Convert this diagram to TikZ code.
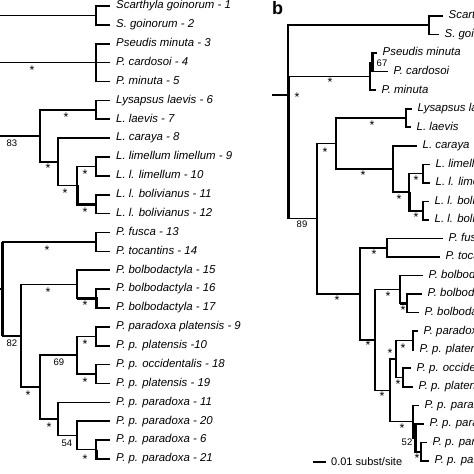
\documentclass[tikz,border=0pt]{standalone}
\usepackage{fontspec}
\setmainfont{Liberation Sans}

\begin{document}
\begin{tikzpicture}[x=1pt,y=-1pt,
    br/.style={line width=1.6pt},
    thickbr/.style={line width=3pt},
    ltip/.style={anchor=west,inner xsep=6pt,inner ysep=0pt,text height=8pt,text depth=2.3pt,
                 font=\itshape\fontsize{11.4}{11.4}\selectfont},
    rtip/.style={ltip,inner xsep=5.5pt},
    bstar/.style={inner sep=0pt,yshift=-2.3pt,font=\fontsize{12.5}{12.5}\selectfont},
    bval/.style={inner sep=0pt,font=\fontsize{9.5}{9.5}\selectfont}]
  \useasboundingbox (0,0) rectangle (474,474);
  \clip (0,0) rectangle (474,474);

  % panel a (cladogram, cut on the left)
  \foreach \name [count=\i] in {Scarthyla goinorum - 1, S. goinorum - 2, Pseudis minuta - 3,
      P. cardosoi - 4, P. minuta - 5, Lysapsus laevis - 6, L. laevis - 7, L. caraya - 8,
      L. limellum limellum - 9, L. l. limellum - 10, L. l. bolivianus - 11,
      L. l. bolivianus - 12, P. fusca - 13, P. tocantins - 14, P. bolbodactyla - 15,
      P. bolbodactyla - 16, P. bolbodactyla - 17, P. paradoxa platensis - 9,
      P. p. platensis -10, P. p. occidentalis - 18, P. p. platensis - 19,
      P. p. paradoxa - 11, P. p. paradoxa - 20, P. p. paradoxa - 6, P. p. paradoxa - 21}
    \node[ltip] (a\i) at (110,{6+(\i-1)*18.875}) {\name};

  \coordinate (L0) at (-8,200);
  \coordinate (Lsg) at (96,15.4);
  \coordinate (Lpm) at (96,62.6);
  \coordinate (L83) at (40,135.8);
  \coordinate (Lly) at (96,109.8);
  \coordinate (Lli1) at (58,161.7);
  \coordinate (Lli2) at (77,185.3);
  \coordinate (Lli3) at (96,166.4);
  \coordinate (Lli4) at (96,204.2);
  \coordinate (Lfb) at (2.5,288.9);
  \coordinate (Lfu) at (96,242);
  \coordinate (Lpp0) at (21,335.7);
  \coordinate (Lbo) at (77,284.4);
  \coordinate (Lbo2) at (96,298.5);
  \coordinate (Lpp1) at (40,387);
  \coordinate (Lpp2) at (77,355.2);
  \coordinate (Lpp4) at (96,336.3);
  \coordinate (Lpp5) at (96,374);
  \coordinate (Lpp3) at (58,418.9);
  \coordinate (Lpp6) at (77,435.4);
  \coordinate (Lpp7) at (96,449.6);

  \draw[br] (L0) |- (Lsg) (L0) |- (Lpm) (L0) |- (L83) (L0) |- (Lfb);
  \draw[br] (Lsg) |- (a1) (Lsg) |- (a2);
  \draw[br] (Lpm) |- (a3) (Lpm) |- (a4) (Lpm) |- (a5);
  \draw[br] (L83) |- (Lly) (L83) |- (Lli1);
  \draw[br] (Lly) |- (a6) (Lly) |- (a7);
  \draw[br] (Lli1) |- (a8) (Lli1) |- (Lli2);
  \draw[br] (Lli2) |- (Lli3) (Lli2) |- (Lli4);
  \draw[br] (Lli3) |- (a9) (Lli3) |- (a10);
  \draw[br] (Lli4) |- (a11) (Lli4) |- (a12);
  \draw[br] (Lfb) |- (Lfu) (Lfb) |- (Lpp0);
  \draw[br] (Lfu) |- (a13) (Lfu) |- (a14);
  \draw[br] (Lpp0) |- (Lbo) (Lpp0) |- (Lpp1);
  \draw[br] (Lbo) |- (a15) (Lbo) |- (Lbo2);
  \draw[br] (Lbo2) |- (a16) (Lbo2) |- (a17);
  \draw[br] (Lpp1) |- (Lpp2) (Lpp1) |- (Lpp3);
  \draw[br] (Lpp2) |- (Lpp4) (Lpp2) |- (Lpp5);
  \draw[br] (Lpp4) |- (a18) (Lpp4) |- (a19);
  \draw[br] (Lpp5) |- (a20) (Lpp5) |- (a21);
  \draw[br] (Lpp3) |- (a22) (Lpp3) |- (Lpp6);
  \draw[br] (Lpp6) |- (a23) (Lpp6) |- (Lpp7);
  \draw[br] (Lpp7) |- (a24) (Lpp7) |- (a25);
  % heavier segments
  \draw[thickbr] (Lfb |- Lfu) -- (Lfb |- Lpp0);
  \draw[thickbr] (Lli2) -- (Lli2 |- Lli4) -- (Lli4);
  \draw[thickbr] (Lbo |- Lbo2) -- (Lbo2) -- (Lbo2 |- a17);
  \draw[thickbr] (Lpp7) -- (Lpp7 |- a25);

  \node[bval] (s83) at (12,143) {83};
  \node[bval] (s82) at (12,343) {82};
  \node[bval] (s69) at (59,362) {69};
  \node[bval] (s54) at (67,443) {54};
  \foreach \x/\y [count=\k] in {32/68, 66/115, 48/166, 65/191, 85/172, 85/210, 47/248,
      48/290, 85/303, 28/393, 85/342, 85/380, 49/425, 85/457}
    \node[bstar] (la\k) at (\x,\y) {*};

  % panel b (phylogram)
  \node[inner sep=0pt,font=\bfseries\fontsize{18}{18}\selectfont] (panelb) at (277.5,8.5) {b};
  \foreach \xe/\name [count=\i] in {443/Scarthyla goinorum, 439/S. goinorum, 377/Pseudis minuta,
      388/P. cardosoi, 376/P. minuta, 412/Lysapsus laevis, 411/L. laevis, 417/L. caraya,
      430/L. limellum limellum, 430/L. l. limellum, 429/L. l. bolivianus, 429/L. l. bolivianus,
      443/P. fusca, 440/P. tocantins, 423/P. bolbodactyla, 422/P. bolbodactyla,
      419/P. bolbodactyla, 418/P. paradoxa platensis, 414/P. p. platensis,
      411/P. p. occidentalis, 413/P. p. platensis, 419/P. p. paradoxa, 424/P. p. paradoxa,
      427/P. p. paradoxa, 429/P. p. paradoxa}
    \node[rtip] (b\i) at (\xe,{16+(\i-1)*18.54}) {\name};

  \coordinate (Rstub) at (272,95);
  \coordinate (R0) at (288,95);
  \coordinate (Rsg) at (429,25.2);
  \coordinate (Rin) at (288,147.5);
  \coordinate (Rpm) at (370,76.3);
  \coordinate (Rpm2) at (372,62.3);
  \coordinate (R89) at (317,218.6);
  \coordinate (Rly1) at (336,143.5);
  \coordinate (Rly) at (406,118);
  \coordinate (Rli1) at (393,169);
  \coordinate (Rli2) at (409,192.1);
  \coordinate (Rli3) at (423,173.6);
  \coordinate (Rli4) at (423,210.7);
  \coordinate (Rfb) at (360,293.8);
  \coordinate (Rfu) at (387,247.7);
  \coordinate (Rpp0) at (375,339.9);
  \coordinate (Rbo) at (400,289.5);
  \coordinate (Rbo2) at (407,303.4);
  \coordinate (Rpp1) at (390,390.3);
  \coordinate (Rpp2) at (396,359);
  \coordinate (Rpp4) at (413,340.4);
  \coordinate (Rpp5) at (403,377.5);
  \coordinate (Rpp3) at (413,421.5);
  \coordinate (Rpp6) at (415,437.8);
  \coordinate (Rpp7) at (421,451.7);

  \draw[br] (Rstub) -- (R0);
  \draw[br] (R0) |- (Rsg) (R0) |- (Rin);
  \draw[br] (Rsg) |- (b1) (Rsg) |- (b2);
  \draw[br] (Rin) |- (Rpm) (Rin) |- (R89);
  \draw[br] (Rpm) |- (Rpm2) (Rpm) |- (b5);
  \draw[br] (Rpm2) |- (b3) (Rpm2) |- (b4);
  \draw[br] (R89) |- (Rly1) (R89) |- (Rfb);
  \draw[br] (Rly1) |- (Rly) (Rly1) |- (Rli1);
  \draw[br] (Rly) |- (b6) (Rly) |- (b7);
  \draw[br] (Rli1) |- (b8) (Rli1) |- (Rli2);
  \draw[br] (Rli2) |- (Rli3) (Rli2) |- (Rli4);
  \draw[br] (Rli3) |- (b9) (Rli3) |- (b10);
  \draw[br] (Rli4) |- (b11) (Rli4) |- (b12);
  \draw[br] (Rfb) |- (Rfu) (Rfb) |- (Rpp0);
  \draw[br] (Rfu) |- (b13) (Rfu) |- (b14);
  \draw[br] (Rpp0) |- (Rbo) (Rpp0) |- (Rpp1);
  \draw[br] (Rbo) |- (b15) (Rbo) |- (Rbo2);
  \draw[br] (Rbo2) |- (b16) (Rbo2) |- (b17);
  \draw[br] (Rpp1) |- (Rpp2) (Rpp1) |- (Rpp3);
  \draw[br] (Rpp2) |- (Rpp4) (Rpp2) |- (Rpp5);
  \draw[br] (Rpp4) |- (b18) (Rpp4) |- (b19);
  \draw[br] (Rpp5) |- (b20) (Rpp5) |- (b21);
  \draw[br] (Rpp3) |- (b22) (Rpp3) |- (Rpp6);
  \draw[br] (Rpp6) |- (b23) (Rpp6) |- (Rpp7);
  \draw[br] (Rpp7) |- (b24) (Rpp7) |- (b25);
  % heavier segments
  \draw[thickbr] (Rin |- Rpm) -- (Rin |- R89);
  \draw[thickbr] (Rpm2 |- b3) -- (Rpm2 |- b4);
  \draw[thickbr] (Rli2) -- (Rli2 |- Rli4);
  \draw[thickbr] (Rbo |- Rbo2) -- (Rbo2);
  \draw[thickbr] (Rpp6 |- b23) -- (Rpp6 |- Rpp7);

  \node[bval] (s67) at (382,63) {67};
  \node[bval] (s89) at (302,224) {89};
  \node[bval] (s52) at (407,442) {52};
  \foreach \x/\y [count=\k] in {297/95, 330/80, 372/123, 325/150, 363/173, 399/197, 416/178,
      416/215, 374/252, 337/298, 388/294, 403/308, 368/343, 382/394, 390/351, 403/346,
      398/382, 402/426, 417/456}
    \node[bstar] (ra\k) at (\x,\y) {*};

  % scale bar
  \coordinate (sb0) at (313,462);
  \coordinate (sb1) at (326,462);
  \draw[br] (sb0) -- (sb1);
  \node[anchor=west,inner sep=0pt,font=\fontsize{11}{11}\selectfont] (sbt) at (331,462) {0.01 subst/site};
\end{tikzpicture}
\end{document}
